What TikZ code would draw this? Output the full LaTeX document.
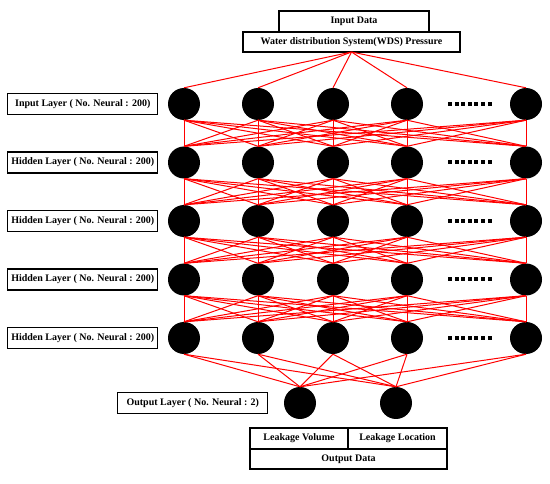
\documentclass[tikz,border=0pt]{standalone}
\usepackage{fontspec}
\setmainfont{Liberation Serif}
\usepackage{tikz}
\usetikzlibrary{positioning, calc}

\begin{document}
\begin{tikzpicture}[x=1pt, y=-1pt,
    neuron/.style={circle, fill=black, minimum size=32pt, inner sep=0pt},
    box/.style={draw, line width=1.3pt, outer sep=0pt, inner sep=0pt, minimum height=21pt, align=center, font=\fontsize{10}{12}\selectfont\bfseries},
    layerbox/.style={box, minimum width=150pt},
    link/.style={red, line width=1pt}
]
    \useasboundingbox (0,0) rectangle (550,484);

    % data boxes on top
    \node[box, minimum width=150pt] (indata) at (354,21.5) {Input Data};
    \node[box, minimum width=217pt, minimum height=20pt] (wds) at (351.5,42) {Water distribution System(WDS) Pressure};

    % neurons and dots
    \foreach \r/\y in {1/104, 2/162.5, 3/221, 4/279.5, 5/338}{
        \foreach \c/\x in {1/184, 2/258, 3/333, 4/407, 5/526}
            \node[neuron] (n\r-\c) at (\x,\y) {};
        \foreach \d in {0,...,6}
            \fill (448+6.6*\d,\y-2) rectangle ++(4,4);
    }
    \node[neuron] (o1) at (300,403) {};
    \node[neuron] (o2) at (396,403) {};

    % layer labels
    \node[layerbox, left=10pt of n1-1] (lab1) {Input Layer ( No. Neural : 200)};
    \foreach \r in {2,...,5}
        \node[layerbox, left=10pt of n\r-1] (lab\r) {Hidden Layer ( No. Neural : 200)};
    \node[layerbox, left=16pt of o1] (labout) {Output Layer ( No. Neural : 2)};

    % data boxes at the bottom
    \node[box, minimum width=98pt] (vol) at (299,438.5) {Leakage Volume};
    \node[box, minimum width=99pt, right=0pt of vol] (loc) {Leakage Location};
    \node[box, minimum width=197pt, minimum height=20pt] (outdata) at (348.5,459) {Output Data};

    % links
    \foreach \c in {1,...,5}
        \draw[link] (wds.south) -- (n1-\c.north);
    \foreach \r [evaluate=\r as \s using int(\r+1)] in {1,...,4}
        \foreach \a in {1,...,5}
            \foreach \b in {1,...,5}
                \draw[link] (n\r-\a.south) -- (n\s-\b.north);
    \foreach \a in {1,...,5}
        \foreach \b in {1,2}
            \draw[link] (n5-\a.south) -- (o\b.north);
\end{tikzpicture}
\end{document}
